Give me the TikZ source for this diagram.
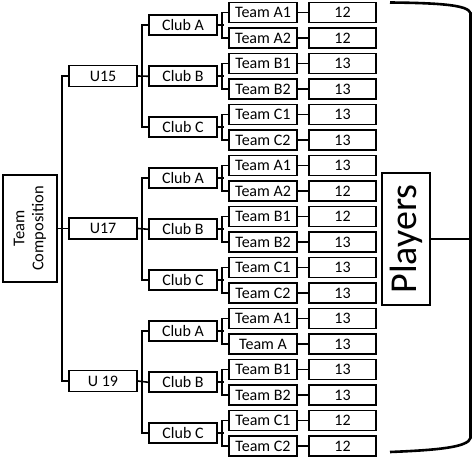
\documentclass[tikz,border=0pt]{standalone}
\usepackage{fontspec}
\setmainfont{Carlito}
\begin{document}
\begin{tikzpicture}[x=1pt,y=-1pt,
  box/.style={draw=black,line width=1.6pt,minimum height=20pt,inner sep=0pt,font=\fontsize{16}{18}\selectfont},
  clubbox/.style={box,minimum width=68pt},
  teambox/.style={box,minimum width=68pt},
  numbox/.style={box,minimum width=67pt},
  agebox/.style={box,minimum width=68pt,minimum height=21pt},
  conn/.style={draw=black,line width=1.6pt},
  thin/.style={draw=black,line width=1.2pt}]
\useasboundingbox (0,0) rectangle (474,457);
% Root
\node[box,minimum width=107pt,minimum height=54pt,rotate=90,align=center,font=\fontsize{16.5}{19}\selectfont] (tc) at (30,228.5) {Team\\Composition};
% Age groups
\node[agebox] (u1) at (103,76) {U15};
\node[agebox] (u2) at (103,228.5) {U17};
\node[agebox] (u3) at (103,381) {U 19};
% Teams and numbers
\foreach \i/\t/\n in {0/Team A1/12,1/Team A2/12,2/Team B1/13,3/Team B2/13,4/Team C1/13,5/Team C2/13,
  6/Team A1/13,7/Team A2/12,8/Team B1/12,9/Team B2/13,10/Team C1/13,11/Team C2/13,
  12/Team A1/13,13/Team A/13,14/Team B1/13,15/Team B2/13,16/Team C1/12,17/Team C2/12}{
  \pgfmathsetmacro{\yy}{12.5+25.5*\i}
  \node[teambox] (t\i) at (263,\yy) {\t};
  \node[numbox] (n\i) at (342.5,\yy) {\n};
  \draw[conn] (t\i.east) -- (n\i.west);
}
% Clubs
\foreach \g/\u in {0/u1,1/u2,2/u3}{
  \foreach \k/\lab in {0/A,1/B,2/C}{
    \pgfmathtruncatemacro{\ia}{6*\g+2*\k}
    \pgfmathtruncatemacro{\ib}{6*\g+2*\k+1}
    \pgfmathsetmacro{\yy}{12.5+25.5*(6*\g+2*\k+0.5)}
    \node[clubbox] (c\g\k) at (183,\yy) {Club \lab};
    \draw[conn] (t\ia.west) -- ++(-6,0) |- (t\ib.west);
    \draw[conn] (c\g\k.east) -- ++(6,0);
  }
  \draw[conn] (c\g0.west) -- ++(-6,0) |- (c\g2.west);
  \draw[conn] (\u.east) -- (c\g1.west);
}
% Trunk
\draw[conn] (u1.west) -- ++(-6,0) |- (u3.west);
\draw[conn] (tc.south) -- (u2.west);
% Players
\node[draw=black,line width=1.6pt,minimum width=48pt,minimum height=132pt,inner sep=0pt] (pl) at (406,239) {};
\node[rotate=90,font=\fontsize{38}{40}\selectfont] (plt) at (pl.center) {Players};
\coordinate (bm) at (469,239);
\draw[thin] (pl.east) -- (bm);
% Bracket
\coordinate (btop) at (390,2.5);
\coordinate (bbot) at (390,452);
\draw[line width=2.6pt] (btop) .. controls (440,3) and (468,5) .. (470.5,13) -- (470.5,438) .. controls (468,447) and (440,450) .. (bbot);
\end{tikzpicture}
\end{document}
